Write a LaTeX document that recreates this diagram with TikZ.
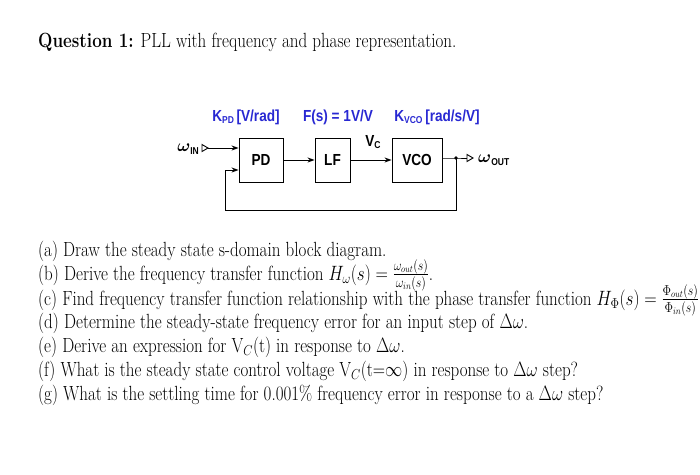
\documentclass[tikz,border=0pt]{standalone}
\usepackage{amsmath}
\usepackage{fontspec}
\newfontfamily\arialb[FakeStretch=0.85]{Liberation Sans Bold}
\usetikzlibrary{arrows.meta}
\definecolor{kblue}{RGB}{40,40,210}
\tikzset{
  blk/.style={draw,line width=0.9pt,minimum width=#1,minimum height=44pt,font=\arialb\fontsize{16}{16}\selectfont,inner sep=0pt},
  sig/.style={line width=0.9pt,-{Stealth[length=7pt,width=5pt]}},
  wire/.style={line width=0.9pt},
  lbl/.style={font=\arialb\fontsize{16}{16}\selectfont,inner sep=0pt},
  klbl/.style={lbl,text=kblue},
  txt/.style={anchor=west,inner sep=0pt,font=\fontsize{20.5}{22}\selectfont}
}
\newcommand{\sq}[1]{\scalebox{0.83}[1]{#1}}
\newcommand{\sbs}[1]{\raisebox{-0.3ex}{\fontsize{10}{10}\selectfont #1}}
\begin{document}
\begin{tikzpicture}[x=1pt,y=-1pt]
\useasboundingbox (0,0) rectangle (700,474);
% blocks
\node[blk=44pt] (pd) at (261,160) {PD};
\node[blk=35pt] (lf) at (332.5,160) {LF};
\node[blk=50pt] (vco) at (417,160) {VCO};
% input port
\coordinate (inp) at (208,148);
\draw[wire] (inp) -- ++(-6,-3.5) -- ++(0,7) -- cycle;
\node[lbl,anchor=east] (win) at (199,149) {$\boldsymbol{\omega}$\sbs{IN}};
\draw[sig] (inp) -- (pd.west |- inp);
\draw[sig] (pd) -- (lf);
\draw[sig] (lf) -- (vco);
\node[lbl] (vc) at (373,142) {V\sbs{C}};
% output
\coordinate (dot) at (456,158);
\fill (dot) circle (1.8pt);
\draw[wire] (vco.east |- dot) -- (dot) -- (467,158);
\coordinate (outp) at (467,158);
\draw[wire] (outp) -- ++(0,-3.5) -- ++(6,3.5) -- ++(-6,3.5) -- cycle;
\node[lbl,anchor=west] (wout) at (478,160) {$\boldsymbol{\omega}$\sbs{OUT}};
% feedback
\draw[sig] (dot) -- (456,210) -- (225,210) -- (225,170) -- (pd.west |- 0,170);
% top labels
\node[klbl] (kpd) at (246,117) {K\sbs{PD}\,[V/rad]};
\node[klbl] (fs) at (338,117) {F(s) = 1V/V};
\node[klbl] (kvco) at (437,117) {K\sbs{VCO}\,[rad/s/V]};
% text
\node[txt] (t0) at (38,42) {\sq{\textbf{Question 1:} PLL with frequency and phase representation.}};
\node[txt] (ta) at (38,251) {\sq{(a) Draw the steady state s-domain block diagram.}};
\node[txt] (tb) at (38,275) {\sq{(b) Derive the frequency transfer function $H_\omega(s)=\frac{\omega_{out}(s)}{\omega_{in}(s)}$.}};
\node[txt] (tc) at (38,300) {\sq{(c) Find frequency transfer function relationship with the phase transfer function $H_\Phi(s)=\frac{\Phi_{out}(s)}{\Phi_{in}(s)}$.}};
\node[txt] (td) at (38,323) {\sq{(d) Determine the steady-state frequency error for an input step of $\Delta\omega$.}};
\node[txt] (te) at (38,347) {\sq{(e) Derive an expression for V$_C$(t) in response to $\Delta\omega$.}};
\node[txt] (tf) at (38,371) {\sq{(f) What is the steady state control voltage V$_C$(t=$\infty$) in response to $\Delta\omega$ step?}};
\node[txt] (tg) at (38,395) {\sq{(g) What is the settling time for 0.001\% frequency error in response to a $\Delta\omega$ step?}};
\end{tikzpicture}
\end{document}
